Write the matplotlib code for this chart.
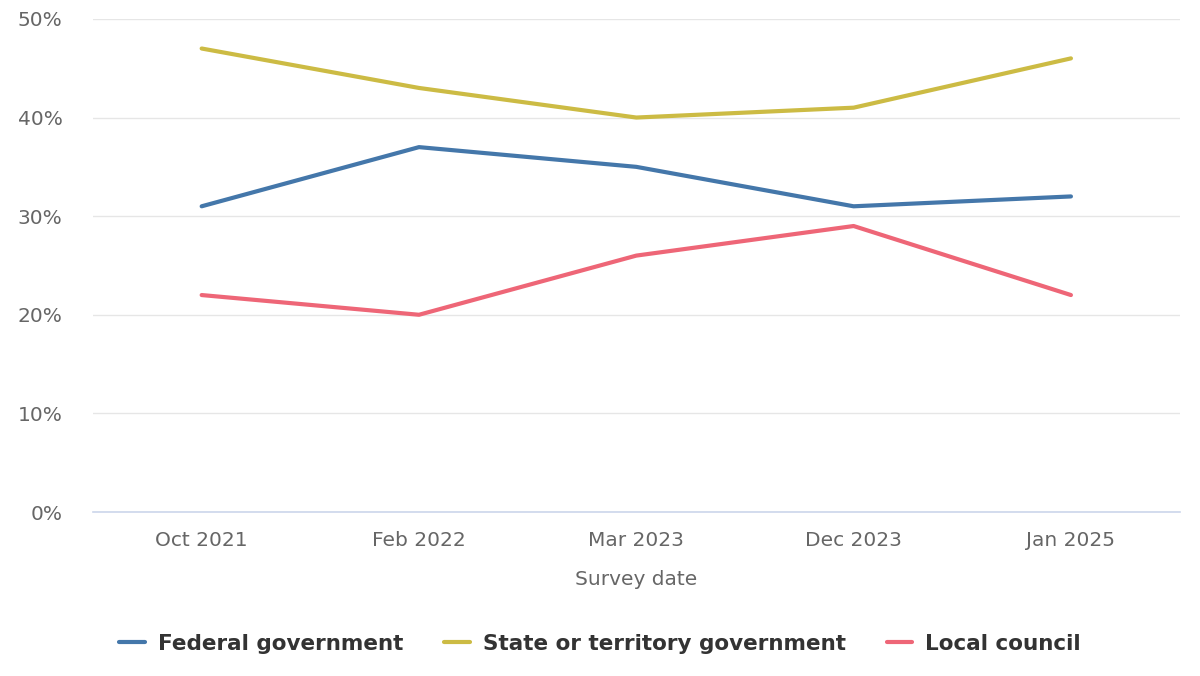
import matplotlib.pyplot as plt

plt.rcParams['font.family'] = ['DejaVu Sans']

survey_dates = ['Oct 2021', 'Feb 2022', 'Mar 2023', 'Dec 2023', 'Jan 2025']
federal = [31, 37, 35, 31, 32]
state = [47, 43, 40, 41, 46]
local = [22, 20, 26, 29, 22]

series = [
    ('Federal government', federal, '#4477aa'),
    ('State or territory government', state, '#ccbb44'),
    ('Local council', local, '#ee6677'),
]

fig = plt.figure(figsize=(12, 6.76), dpi=100)
ax = fig.add_axes([0.0775, 0.2426, 0.9055, 0.7294])

x = list(range(len(survey_dates)))
for name, vals, color in series:
    ax.plot(x, vals, color=color, linewidth=3.0, label=name,
            solid_capstyle='round', solid_joinstyle='round', zorder=3)

ax.set_xlim(-0.5, len(survey_dates) - 0.5)
ax.set_ylim(0, 50)
ax.set_yticks(range(0, 51, 10))
ax.set_yticklabels([f'{v}%' for v in range(0, 51, 10)])
ax.set_xticks(x)
ax.set_xticklabels(survey_dates)

ax.grid(axis='y', color='#e6e6e6', linewidth=1)
ax.set_axisbelow(True)
for side in ['top', 'right', 'left']:
    ax.spines[side].set_visible(False)
ax.spines['bottom'].set_color('#ccd6eb')
ax.spines['bottom'].set_linewidth(1.2)
ax.spines['bottom'].set_zorder(2)

ax.tick_params(axis='both', length=0, labelsize=14.5, labelcolor='#666666')
ax.tick_params(axis='y', pad=22)
ax.tick_params(axis='x', pad=14)
ax.set_xlabel('Survey date', fontsize=14.5, color='#666666', labelpad=14)

fig.legend(loc='center', bbox_to_anchor=(0.5, 1 - 644 / 676), ncol=3,
           frameon=False, handlelength=1.2, handletextpad=0.6, columnspacing=1.9,
           prop={'size': 15.5, 'weight': 'bold'}, labelcolor='#333333')

fig.savefig('out.png', dpi=100, facecolor='white')
